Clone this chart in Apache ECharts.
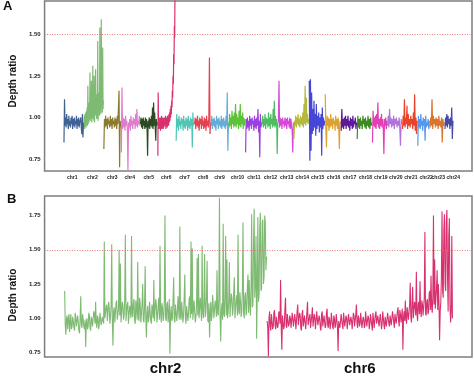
<!DOCTYPE html>
<html><head><meta charset="utf-8">
<script src="https://cdn.jsdelivr.net/npm/echarts@6/dist/echarts.min.js"></script>
<style>html,body{margin:0;padding:0;background:#fff}#c{width:474px;height:376px}</style>
</head><body><div id="c"></div>
<script>
// ---------- data ----------
const chrNames = ['chr1','chr2','chr3','chr4','chr5','chr6','chr7','chr8','chr9','chr10','chr11','chr12','chr13','chr14','chr15','chr16','chr17','chr18','chr19','chr20','chr21','chr22','chr23','chr24'];
const chrLengths = [21, 20.7, 18.3, 20, 18.3, 19, 19.3, 17.3, 18.7, 17.3, 17.3, 17, 16.3, 16, 16.7, 16.7, 16.7, 16, 15.7, 15.7, 16, 12.7, 15.7, 9];
const yTicksA = [0.75, 1.00, 1.25, 1.50];
const yTicksB = [0.75, 1.00, 1.25, 1.50, 1.75];
const thresholdRatio = 1.5;

// Panel A: genome-wide depth ratio per chromosome
const chr1A = [0.85, 1.11, 0.95, 1.00, 0.94, 1.02, 0.96, 0.99, 0.93, 1.01, 0.95, 0.98, 0.94, 1.00, 0.96, 1.01, 0.93, 0.99, 0.95, 1.00, 0.94, 0.98, 0.96, 1.01, 0.93, 0.99, 0.95, 1.00, 0.94, 0.97, 0.96, 1.00, 0.93, 0.90, 1.02, 0.88, 0.97];
const chr2A = [0.97, 1.01, 0.93, 1.02, 0.95, 1.03, 0.94, 1.04, 0.96, 1.06, 0.95, 1.19, 0.96, 1.08, 0.97, 1.09, 0.99, 1.27, 0.98, 1.10, 1.00, 1.22, 0.97, 1.12, 0.99, 1.31, 1.00, 1.08, 0.98, 1.25, 0.97, 1.13, 1.01, 1.29, 1.02, 1.10, 0.99, 1.14, 1.00, 1.46, 0.98, 1.15, 1.03, 1.12, 1.01, 1.54, 1.04, 1.16, 1.02, 1.59, 1.06, 1.12, 1.03, 1.42, 1.05, 1.10];
const chr3A = [0.81, 0.99, 0.94, 1.01, 0.95, 0.99, 0.93, 1.00, 0.96, 0.98, 0.94, 1.01, 0.95, 0.99, 0.93, 1.00, 0.96, 0.98, 0.94, 1.00, 0.95, 0.99, 0.93, 1.01, 0.96, 0.97, 1.16, 0.70, 0.98, 0.94];
const chr4A = [0.79, 1.18, 0.93, 1.00, 0.94, 0.99, 0.92, 1.01, 0.95, 0.98, 0.93, 0.68, 0.97, 0.94, 0.99, 0.92, 1.01, 0.95, 0.98, 0.93, 1.00, 0.96, 0.99, 0.93, 1.02, 0.95, 1.05, 0.94, 0.98, 0.96, 1.01, 0.95];
const chr5A = [0.96, 1.00, 0.94, 0.99, 0.93, 1.00, 0.95, 0.98, 0.93, 1.00, 0.94, 0.99, 0.95, 0.77, 0.98, 0.94, 1.00, 0.93, 0.99, 0.95, 1.01, 0.94, 1.06, 0.93, 1.09, 0.95, 1.03, 0.94, 0.86, 0.99, 0.95, 0.97];
const chr6A = [0.77, 1.15, 0.95, 1.00, 0.93, 0.98, 0.95, 1.00, 0.92, 0.99, 0.94, 1.01, 0.93, 0.98, 0.95, 1.00, 0.93, 0.99, 0.94, 1.00, 0.95, 0.98, 0.96, 1.01, 0.93, 0.99, 0.95, 1.00, 0.94, 1.01, 0.96, 0.99, 0.95, 1.02, 0.97, 1.03, 0.98, 1.05, 1.00, 1.07, 1.02, 1.10, 1.06, 1.16, 1.12, 1.25, 1.20, 1.38, 1.32, 1.55, 1.48, 1.80, 1.70, 1.95];
const chr7A = [0.86, 1.02, 0.94, 0.99, 0.92, 1.01, 0.95, 0.98, 0.93, 1.00, 0.96, 0.99, 0.92, 1.01, 0.94, 0.98, 0.93, 1.00, 0.95, 0.99, 0.92, 1.01, 0.94, 0.98, 0.93, 1.00, 0.95, 0.99, 0.82, 1.03, 0.95, 0.97];
const chr8A = [0.96, 1.00, 0.93, 0.99, 0.95, 1.01, 0.94, 0.98, 0.92, 1.00, 0.96, 0.99, 0.93, 1.01, 0.95, 0.98, 0.93, 1.00, 0.94, 0.99, 0.92, 1.01, 0.95, 0.98, 0.94, 1.00, 1.36, 0.90, 0.97];
const chr9A = [0.95, 1.01, 0.93, 0.99, 0.95, 1.00, 0.94, 0.98, 0.92, 1.01, 0.96, 0.99, 0.93, 1.00, 0.95, 0.98, 0.94, 1.01, 0.93, 0.99, 0.95, 1.00, 0.94, 0.98, 0.93, 1.01, 0.95, 1.15, 0.80, 0.97];
const chr10A = [0.94, 1.02, 0.95, 1.00, 0.93, 1.04, 0.96, 1.01, 0.94, 1.03, 0.95, 1.08, 0.94, 1.02, 0.96, 1.00, 0.93, 1.04, 0.95, 1.08, 0.94, 1.01, 0.96, 1.03, 0.93, 1.00, 0.95, 0.99];
const chr11A = [0.79, 0.99, 0.93, 1.00, 0.94, 0.98, 0.92, 1.01, 0.95, 0.99, 0.93, 1.00, 0.96, 0.98, 0.92, 1.01, 0.94, 0.99, 0.93, 1.00, 0.95, 1.05, 0.91, 0.98, 0.76, 1.02, 0.94, 0.97];
const chr12A = [0.96, 1.01, 0.94, 0.99, 0.95, 1.02, 0.93, 1.00, 0.96, 0.99, 0.94, 1.03, 0.95, 1.00, 0.93, 1.02, 0.96, 0.99, 0.94, 1.05, 0.95, 1.10, 0.94, 1.01, 0.95, 0.99, 0.78, 0.97];
const chr13A = [0.97, 1.22, 0.94, 1.00, 0.95, 0.99, 0.93, 1.00, 0.96, 0.98, 0.94, 1.00, 0.95, 0.99, 0.93, 1.00, 0.96, 0.98, 0.94, 1.00, 0.93, 0.99, 0.95, 0.92, 0.79, 0.97];
const chr14A = [0.87, 0.98, 0.95, 1.01, 0.94, 1.00, 0.96, 1.02, 0.95, 0.99, 0.94, 1.01, 0.96, 1.00, 0.95, 1.03, 0.94, 1.08, 0.96, 1.19, 0.95, 1.12, 0.97, 1.02, 0.96, 0.99];
const chr15A = [1.22, 0.74, 1.23, 0.80, 1.15, 0.90, 1.05, 0.92, 1.10, 0.94, 1.02, 0.89, 1.08, 0.93, 1.01, 0.95, 1.03, 0.91, 1.00, 0.94, 1.02, 0.77, 1.06, 0.93, 1.00, 0.95, 0.98];
const chr16A = [1.14, 0.93, 0.82, 1.01, 0.95, 1.00, 0.92, 0.99, 0.94, 1.02, 0.95, 0.99, 0.93, 1.00, 0.96, 0.98, 0.92, 1.01, 0.95, 0.99, 0.93, 1.00, 0.94, 0.81, 0.98, 0.96];
const chr17A = [0.92, 1.05, 0.94, 0.99, 0.93, 1.00, 0.95, 1.01, 0.93, 0.99, 0.95, 1.01, 0.94, 0.98, 0.92, 1.00, 0.95, 0.99, 0.93, 1.01, 0.94, 0.98, 0.96, 1.00, 0.93, 0.97];
const chr18A = [0.87, 1.01, 0.94, 0.99, 0.93, 1.00, 0.95, 0.98, 0.93, 1.01, 0.96, 0.99, 0.94, 1.00, 0.93, 0.98, 0.95, 1.01, 0.94, 0.99, 0.93, 1.00, 0.95, 0.97];
const chr19A = [0.85, 1.04, 0.95, 1.00, 0.94, 1.01, 0.93, 1.02, 0.96, 1.09, 0.94, 0.99, 0.93, 1.00, 0.95, 1.02, 0.94, 0.99, 0.93, 0.78, 0.99, 0.95, 1.00, 0.93, 0.98];
const chr20A = [0.95, 1.01, 0.94, 1.05, 0.96, 1.00, 0.94, 0.99, 0.95, 1.01, 0.93, 0.99, 0.96, 1.00, 0.94, 0.98, 0.95, 1.00, 0.93, 0.83, 0.99, 0.96];
const chr21A = [0.93, 1.01, 0.95, 1.11, 0.94, 1.00, 0.96, 1.07, 0.93, 1.02, 0.95, 0.99, 0.94, 1.01, 0.96, 0.99, 0.93, 1.03, 0.95, 1.14, 0.92, 1.00, 0.90, 0.98];
const chr22A = [0.83, 1.01, 0.94, 0.99, 0.93, 1.02, 0.95, 0.98, 0.92, 1.00, 0.95, 0.99, 0.86, 1.01, 0.94, 0.97, 0.95, 0.99, 0.93, 0.98];
const chr23A = [0.94, 1.00, 0.95, 1.11, 0.93, 1.01, 0.96, 0.99, 0.94, 1.00, 0.95, 0.99, 0.93, 1.01, 0.95, 0.98, 0.94, 1.00, 0.85, 0.99, 0.95, 0.97];
const chr24A = [0.93, 1.00, 0.95, 1.02, 0.94, 1.01, 0.96, 0.99, 0.93, 1.00, 0.95, 1.06, 0.87, 0.98];

// Panel B: zoom into chr2 and chr6
const chr2B = [1.20, 0.95, 0.88, 1.00, 1.02, 0.92, 0.99, 1.03, 0.90, 0.97, 1.03, 0.92, 0.94, 1.01, 0.98, 0.93, 0.91, 1.04, 1.01, 0.94, 0.95, 1.02, 0.97, 0.91, 0.89, 1.00, 1.16, 0.95, 0.93, 1.03, 1.04, 0.94, 0.92, 0.99, 0.79, 0.96, 1.00, 0.92, 0.94, 1.04, 1.02, 0.93, 0.91, 1.01, 0.99, 0.94, 0.95, 1.05, 1.03, 0.96, 1.12, 0.97, 0.93, 1.02, 1.00, 0.92, 0.96, 1.04, 1.05, 0.95, 0.94, 1.01, 0.98, 0.96,
  1.56, 1.00, 0.99, 1.08, 1.10, 0.98, 0.97, 1.12, 1.07, 0.96, 1.01, 1.09, 1.54, 0.99, 0.80, 1.05, 1.08, 0.97, 0.98, 1.11, 1.13, 0.99, 1.00, 1.07, 1.50, 1.02, 1.40, 0.97, 0.98, 1.12, 1.09, 0.99, 1.02, 1.14, 1.61, 0.98, 0.99, 1.10, 1.12, 0.96, 0.97, 1.09, 1.06, 1.00, 1.60, 1.03, 1.01, 1.11, 1.14, 0.98, 0.96, 1.13, 1.08, 0.99, 1.41, 1.02, 0.98, 1.15, 1.11, 0.97, 1.03, 1.10, 1.25, 0.99, 0.97, 1.08, 1.38, 1.01, 0.86, 1.04, 1.09, 0.97, 1.00, 1.12, 1.13, 0.98, 0.96, 1.10, 1.06, 1.00, 1.28, 0.98, 0.99, 1.14, 1.10, 0.97, 1.02, 1.09, 1.15, 0.99, 1.53, 1.03, 0.97, 1.11, 1.08, 0.98, 1.01, 1.13, 1.75, 1.00, 0.98, 1.10, 1.12, 0.97, 1.03, 1.14, 0.74, 1.02, 1.09, 0.98, 1.00, 1.12, 1.30, 0.99, 0.97, 1.10, 1.11, 0.98, 1.04, 1.16, 1.07, 0.99, 1.67, 1.01, 0.99, 1.12, 1.13, 0.97, 1.02, 1.15, 1.32, 1.00, 0.96, 1.09, 1.10, 0.98, 1.03, 1.14, 1.16, 1.00, 1.56, 1.03, 1.51, 0.99, 0.98, 1.13, 1.12, 0.97, 1.01, 1.10, 1.44, 1.02, 1.47, 1.00, 0.99, 1.15, 1.14, 0.98, 1.53, 1.04, 1.00, 1.12, 1.47, 1.01, 1.04, 1.16, 1.42, 0.99, 0.97, 1.11, 0.86, 1.03, 1.12, 0.98, 1.03, 1.17, 1.18, 1.00, 0.99, 1.13, 1.09, 1.01, 1.35, 1.04, 1.02, 1.15, 1.88, 1.01, 0.83, 1.06, 1.11, 0.99, 1.69, 1.03, 1.01, 1.16, 1.60, 1.02, 1.43, 1.00, 1.04, 1.14, 1.41, 1.01, 1.00, 1.18, 1.15, 1.02, 1.06, 1.20, 1.30, 1.00, 0.99, 1.14, 1.17, 1.02, 1.61, 1.05, 1.03, 1.19, 1.12, 1.01, 1.05, 1.21, 1.70, 1.03, 1.00, 1.16, 1.19, 1.02, 1.06, 1.22, 1.32, 1.04, 1.28, 1.10, 1.02, 1.24, 1.76, 1.08, 1.10, 1.55, 1.80, 1.15, 1.25, 1.60, 0.85, 1.20, 1.74, 1.12, 1.18, 1.65, 1.77, 1.20, 1.22, 1.70, 1.72, 1.25, 1.30, 1.75, 1.70, 1.35, 1.45];
const chr6B = [0.98, 0.93, 0.72, 1.00, 1.05, 0.94, 0.91, 1.03, 1.02, 0.92, 0.94, 1.04, 1.06, 0.95, 0.92, 1.01, 1.00, 0.93, 0.95, 1.05, 1.03, 0.96, 1.28, 0.94, 0.77, 1.02, 1.01, 0.92, 0.94, 1.06, 1.15, 0.95, 0.93, 1.03, 1.04, 0.94, 0.96, 1.02, 1.00, 0.93, 0.92, 1.04, 1.05, 0.94, 0.95, 1.03, 0.99, 0.92, 0.93, 1.05, 1.10, 0.95, 0.96, 1.04, 1.02, 0.93, 0.91, 1.03, 1.06, 0.94, 0.95, 1.02, 1.01, 0.92, 0.93, 1.04, 1.12, 0.95, 0.96, 1.01, 1.03, 0.93, 0.92, 1.02, 1.08, 0.94, 0.95, 1.03, 1.00, 0.92, 0.93, 1.05, 1.04, 0.95, 0.96, 1.02, 0.99, 0.93, 0.91, 1.03, 1.05, 0.94, 0.94, 1.02, 1.01, 0.93, 0.95, 1.04, 1.07, 0.95, 0.93, 1.01, 0.99, 0.92, 0.96, 1.04, 1.03, 0.94, 0.92, 1.02, 1.00, 0.93, 0.95, 1.03, 1.04, 0.94, 0.76, 0.98, 0.99, 0.93, 0.94, 1.03, 1.02, 0.95, 0.92, 1.04, 1.05, 0.94, 0.95, 1.02, 1.00, 0.92, 0.93, 1.03, 1.03, 0.95, 0.96, 1.01, 0.98, 0.92, 0.91, 1.04, 1.02, 0.94, 0.95, 1.03, 1.10, 0.96, 0.93, 1.02, 1.00, 0.94, 0.96, 1.04, 1.03, 0.93, 0.92, 1.01, 0.99, 0.93, 0.95, 1.05, 1.04, 0.94, 0.93, 1.02, 1.00, 0.92, 0.96, 1.03, 1.02, 0.95, 0.91, 1.04, 0.99, 0.93, 0.94, 1.03, 1.05, 0.96, 0.95, 1.02, 1.01, 0.94, 0.93, 1.03, 0.98, 0.92, 0.96, 1.05, 1.04, 0.95, 0.92, 1.01, 1.00, 0.94, 0.95, 1.04, 1.03, 0.96, 0.94, 1.02, 1.01, 0.95, 0.96, 1.05, 1.06, 0.97, 0.93, 1.03, 1.02, 0.96, 0.97, 1.05, 1.08, 0.98, 0.94, 1.06, 1.03, 0.97, 0.97, 1.07, 0.77, 1.00, 1.05, 0.98, 1.13, 1.00, 0.96, 1.08, 1.07, 0.99, 0.99, 1.10, 1.26, 1.01, 0.97, 1.11, 1.23, 1.00, 1.00, 1.12, 1.09, 1.02, 1.34, 1.04, 0.98, 1.10, 1.12, 1.03, 1.27, 1.05, 1.01, 1.13, 1.10, 1.02, 1.03, 1.15, 1.63, 1.04, 1.02, 1.12, 1.14, 1.03, 1.05, 1.18, 1.20, 1.06, 1.31, 1.08, 1.04, 1.16, 1.75, 1.10, 1.43, 1.07, 1.08, 1.22, 1.35, 1.06, 1.25, 1.12, 0.84, 1.05, 1.12, 1.30, 1.78, 1.20, 1.15, 1.65, 1.76, 1.25, 1.20, 1.70, 1.79, 1.30, 1.05, 1.60, 1.73, 1.10, 0.97, 1.05, 1.60, 1.00];

// ---------- styles ----------
const chrColors = ['#3f6293','#7fba73','#8a7a2e','#e07ccc','#2c4a22','#d9306f','#52c6b4','#e5414f','#66acd8','#5cc23a','#9b3fe0','#4fbb62','#d548d8','#b5b83c','#4646d6','#dea030','#5b1a98','#3d8a24','#e23fb5','#b274dc','#e8442b','#5597ea','#d9752f','#4848a8'];
const FONT = "'Liberation Sans', Arial, Helvetica, sans-serif";
const LABEL_INSET = 9;

const panelA = [chr1A, chr2A, chr3A, chr4A, chr5A, chr6A, chr7A, chr8A, chr9A, chr10A, chr11A, chr12A, chr13A, chr14A, chr15A, chr16A, chr17A, chr18A, chr19A, chr20A, chr21A, chr22A, chr23A, chr24A];
const starts = [];
let acc = 0;
chrLengths.forEach(l => { starts.push(acc); acc += l; });
const labelPosA = starts.map(s => s + LABEL_INSET);

function toXY(arr, start, len) {
  return arr.map((v, j) => [start + len * (j + 0.5) / arr.length, v]);
}
function nearestName(v, vals, names) {
  let best = 0, bd = Infinity;
  vals.forEach((c, i) => { const d = Math.abs(c - v); if (d < bd) { bd = d; best = i; } });
  return names[best];
}

const thresholdLine = {
  silent: true, symbol: ['none', 'none'], label: { show: false },
  lineStyle: { color: '#e36d6d', width: 1, type: [1, 1.5], opacity: 0.9 },
  data: [{ yAxis: thresholdRatio }]
};

const series = [];
panelA.forEach((arr, i) => {
  series.push({
    type: 'line', xAxisIndex: 0, yAxisIndex: 0, name: chrNames[i],
    data: toXY(arr, starts[i], chrLengths[i]),
    showSymbol: false, symbol: 'none', silent: true, animation: false,
    lineStyle: { width: 1.2, color: chrColors[i] },
    markLine: i === 0 ? thresholdLine : undefined
  });
});
const bStarts = [0, chrLengths[1]];
[[chr2B, 1], [chr6B, 5]].forEach(([arr, ci], k) => {
  series.push({
    type: 'line', xAxisIndex: 1, yAxisIndex: 1, name: chrNames[ci] + ' zoom',
    data: toXY(arr, bStarts[k], chrLengths[ci]),
    showSymbol: false, symbol: 'none', silent: true, animation: false,
    lineStyle: { width: 1.1, color: chrColors[ci] },
    markLine: k === 0 ? thresholdLine : undefined
  });
});
const bCenters = [bStarts[0] + chrLengths[1] / 2, bStarts[1] + chrLengths[5] / 2];
const bNames = [chrNames[1], chrNames[5]];

const yLabel = { fontSize: 6, fontWeight: 'bold', color: '#222', fontFamily: FONT, margin: 4 };
const option = {
  animation: false,
  backgroundColor: '#fff',
  grid: [
    { left: 25, top: 1, width: 447, height: 170, show: true, borderColor: '#7d7d7d', borderWidth: 1.5, backgroundColor: 'transparent' },
    { left: 25, top: 196, width: 447, height: 166, show: true, borderColor: '#7d7d7d', borderWidth: 1.5, backgroundColor: 'transparent' }
  ],
  xAxis: [
    { gridIndex: 0, type: 'value', min: -20, max: 427,
      axisLine: { show: false }, axisTick: { show: false }, splitLine: { show: false },
      axisLabel: { customValues: labelPosA, formatter: v => nearestName(v, labelPosA, chrNames),
        showMinLabel: true, showMaxLabel: true, hideOverlap: false,
        fontSize: 5, fontWeight: 'bold', color: '#222', fontFamily: FONT, margin: 4 } },
    { gridIndex: 1, type: 'value', min: -2.02, max: 41.67,
      axisLine: { show: false }, axisTick: { show: false }, splitLine: { show: false },
      axisLabel: { customValues: bCenters, formatter: v => nearestName(v, bCenters, bNames),
        fontSize: 15, fontWeight: 'bold', color: '#111', fontFamily: FONT, margin: 4 } }
  ],
  yAxis: [
    { gridIndex: 0, type: 'value', min: 0.678, max: 1.70,
      axisLine: { show: false }, axisTick: { show: false }, splitLine: { show: false },
      axisLabel: Object.assign({ customValues: yTicksA, formatter: v => v.toFixed(2) }, yLabel),
      name: 'Depth ratio', nameLocation: 'middle', nameGap: 14,
      nameTextStyle: { fontSize: 10, fontWeight: 'bold', color: '#111', fontFamily: FONT, padding: [0, 0, 0, 10] } },
    { gridIndex: 1, type: 'value', min: 0.717, max: 1.893,
      axisLine: { show: false }, axisTick: { show: false }, splitLine: { show: false },
      axisLabel: Object.assign({ customValues: yTicksB, formatter: v => v.toFixed(2) }, yLabel),
      name: 'Depth ratio', nameLocation: 'middle', nameGap: 14,
      nameTextStyle: { fontSize: 10, fontWeight: 'bold', color: '#111', fontFamily: FONT, padding: [0, 37, 0, 0] } }
  ],
  graphic: [
    { type: 'text', left: 3, top: 0, style: { text: 'A', fontSize: 13, fontWeight: 'bold', fill: '#111', fontFamily: FONT } },
    { type: 'text', left: 7, top: 193, style: { text: 'B', fontSize: 13, fontWeight: 'bold', fill: '#111', fontFamily: FONT } }
  ],
  series: series
};
const chart = echarts.init(document.getElementById('c'), null, { renderer: 'canvas', width: 474, height: 376 });
chart.setOption(option);
</script>
</body></html>
